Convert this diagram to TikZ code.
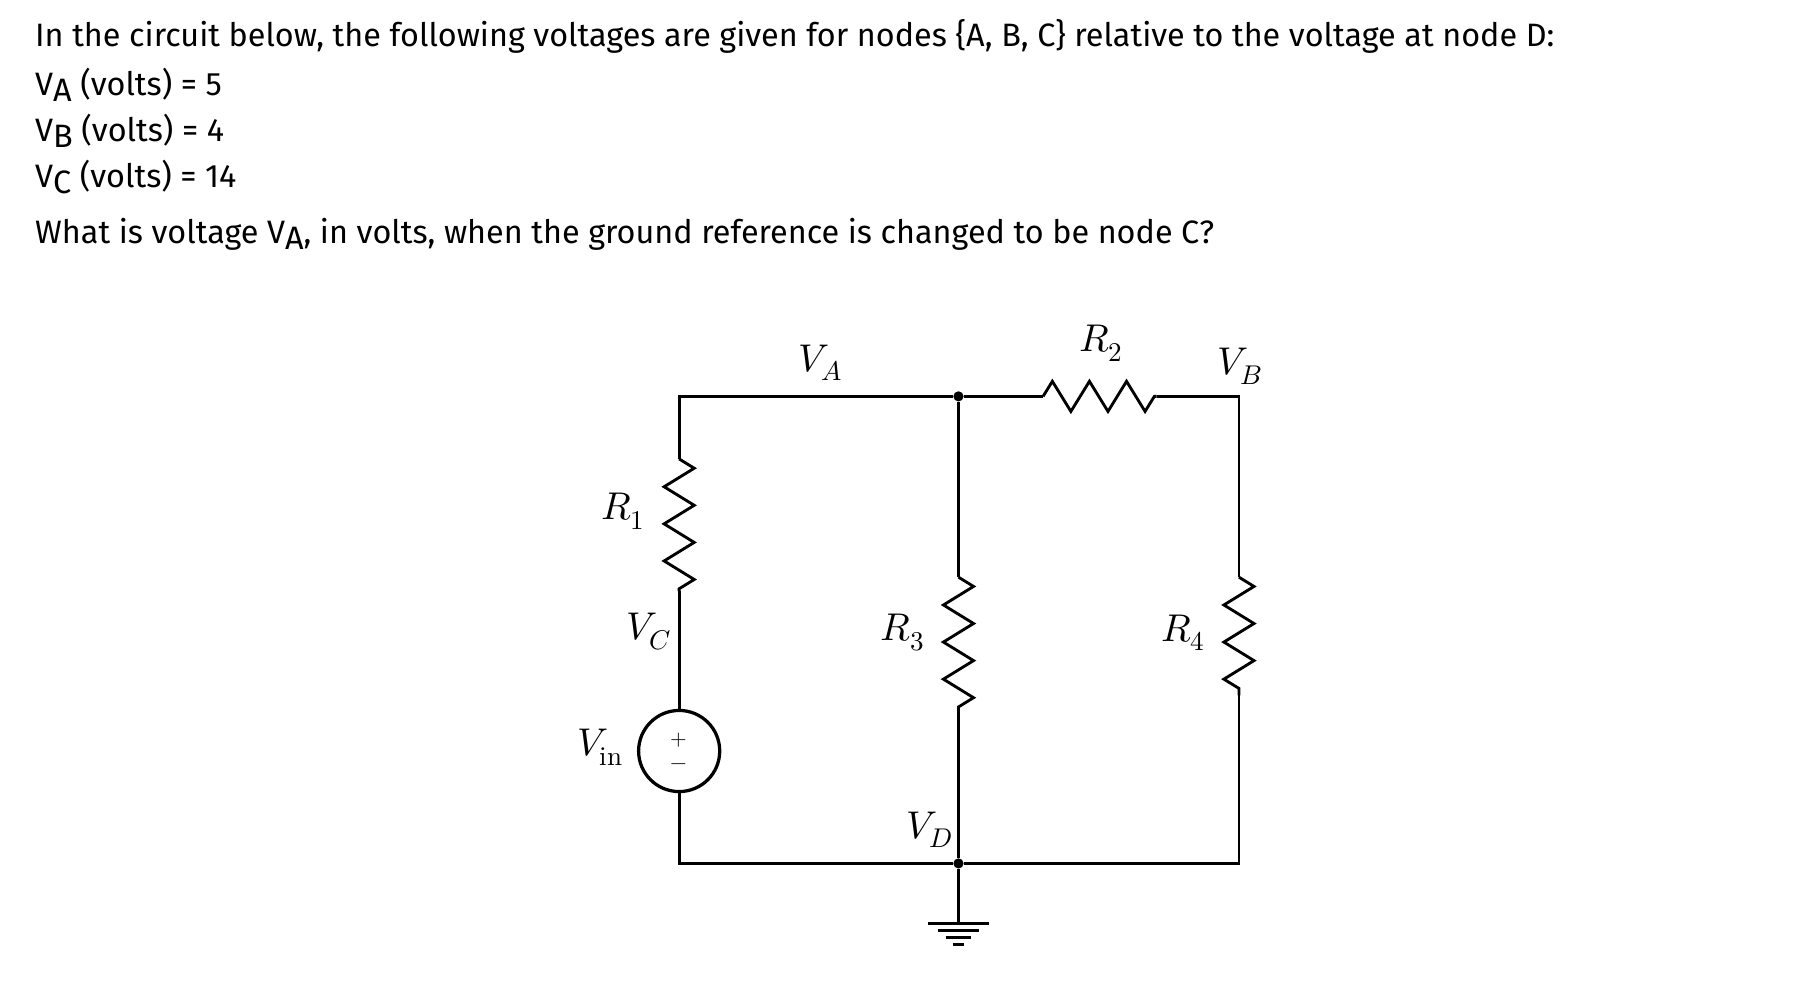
\documentclass[tikz,border=0pt]{standalone}
\usepackage{fontspec}
\setmainfont{Fira Sans}
\usepackage{unicode-math}
\setmathfont{Latin Modern Math}
\usetikzlibrary{decorations.pathmorphing,positioning,calc}
\tikzset{
  wire/.style={line width=1.4pt},
  resistor/.style={wire,decorate,decoration={zigzag,segment length=32*0.02cm,amplitude=13*0.02cm}},
  junction/.style={circle,fill=black,inner sep=0pt,minimum size=5pt},
  qtext/.style={anchor=west,font=\fontsize{15.9}{18}\selectfont,inner sep=0pt},
  lbl/.style={font=\fontsize{19}{22}\selectfont,inner sep=0pt}
}
\newcommand{\sub}[1]{\raisebox{-0.35ex}{#1}}
\begin{document}
\begin{tikzpicture}[x=0.02cm,y=-0.02cm]
\useasboundingbox (0,0) rectangle (1560,861);
% question text
\node[qtext] (l1) at (30,31) {In the circuit below, the following voltages are given for nodes \{A, B, C\} relative to the voltage at node D:};
\node[qtext] (l2) at (30,73) {V\sub{A} (volts) = 5};
\node[qtext] (l3) at (30,113) {V\sub{B} (volts) = 4};
\node[qtext] (l4) at (30,153) {V\sub{C} (volts) = 14};
\node[qtext] (l5) at (30,202) {What is voltage V\sub{A}, in volts, when the ground reference is changed to be node C?};
% corners
\coordinate (tl) at (586,342);
\coordinate (bl) at (586,745);
\coordinate (tr) at (1069,342);
\coordinate (br) at (1069,745);
\node[junction] (tm) at (827,342) {};
\node[junction] (bm) at (827,745) {};
% resistor ends
\coordinate (r1a) at (586,396);
\coordinate (r1b) at (586,510);
\coordinate (r2a) at (900,342);
\coordinate (r2b) at (998,342);
\coordinate (r3a) at (827,498);
\coordinate (r3b) at (827,612);
\coordinate (r4a) at (1069,498);
\coordinate (r4b) at (1069,600);
% source
\node[circle,draw,line width=1.6pt,minimum size=70*0.02cm,inner sep=0pt,
  label={[font=\fontsize{15}{15}\selectfont,inner sep=0pt]center:$\genfrac{}{}{0pt}{}{+}{-}$}] (src) at (586,648) {};
% wires
\draw[wire] (r1a) -- (tl) -- (tm) -- (r2a);
\draw[resistor] (r2a) -- (r2b);
\draw[wire] (r2b) -- (tr) -- (r4a);
\draw[resistor] (r4a) -- (r4b);
\draw[wire] (r4b) -- (br) -- (bm) -- (bl) -- (src.south);
\draw[wire] (src.north) -- (r1b);
\draw[resistor] (r1a) -- (r1b);
\draw[wire] (tm) -- (r3a);
\draw[resistor] (r3a) -- (r3b);
\draw[wire] (r3b) -- (bm);
% ground
\coordinate (g) at (827,797);
\draw[wire] (bm) -- (g);
\foreach \w/\dy in {26/0,18/6,11/12,5/18}
  \draw[line width=1.2pt] ($(g)+(-\w,\dy)$) -- ($(g)+(\w,\dy)$);
% labels
\node[lbl] (va) at (708,313) {$V_A$};
\node[lbl] (r2) at (950,296) {$R_2$};
\node[lbl] (vb) at (1070,316) {$V_B$};
\node[lbl] (r1) at (538,441) {$R_1$};
\node[lbl] (vc) at (560,545) {$V_C$};
\node[lbl] (r3) at (779,546) {$R_3$};
\node[lbl] (r4) at (1021,546) {$R_4$};
\node[lbl] (vin) at (518,645) {$V_{\symup{in}}$};
\node[lbl] (vd) at (802,716) {$V_D$};
\end{tikzpicture}
\end{document}
